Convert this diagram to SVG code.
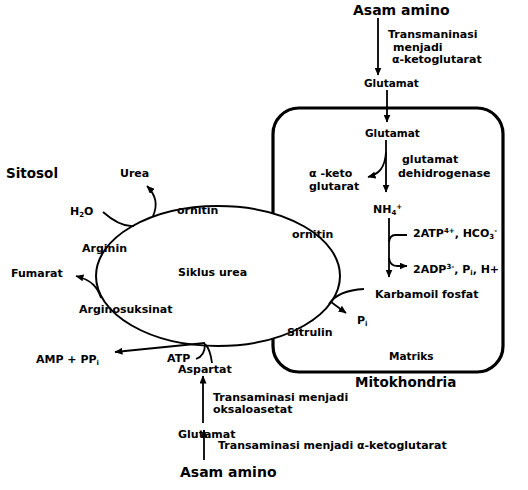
<svg xmlns="http://www.w3.org/2000/svg" width="528" height="490" viewBox="0 0 528 490">
<defs>
<marker id="ah" markerUnits="userSpaceOnUse" markerWidth="9" markerHeight="7" refX="7.5" refY="3.5" orient="auto">
<path d="M0,0 L8,3.5 L0,7 z" fill="#000"/>
</marker>
<style>
text{font-family:"DejaVu Sans","Liberation Sans",sans-serif;font-weight:bold;font-size:11px;fill:#000}
.big{font-size:14px}
.mid{font-size:13.5px}
.sm{font-size:10.5px}
.c{fill:none;stroke:#000;stroke-width:1.8}
.a{marker-end:url(#ah)}
.s{font-size:7px}
</style>
</defs>
<rect width="528" height="490" fill="#fff"/>
<g id="mitokhondria">
<rect x="273" y="108" width="230" height="264" rx="26" ry="26" fill="none" stroke="#000" stroke-width="3.2"/>
</g>
<g id="siklus-urea">
<ellipse cx="218" cy="276" rx="122" ry="70" fill="#fff" stroke="#000" stroke-width="2"/>
<text x="178" y="276">Siklus urea</text>
</g>
<g id="connectors">
<path class="c a" d="M378,18 V75"/>
<path class="c a" d="M387,90 V122"/>
<path class="c a" d="M386,140 V192"/>
<path class="c a" d="M386,152 C385,168 379,174 368,177"/>
<path class="c a" d="M389,218 V277"/>
<path class="c" d="M407,235 H395 Q390,235 389,242"/>
<path class="c a" d="M389,258 Q390,266 397,266 H407"/>
<path class="c" d="M364,289 C345,290 335,295 329,304"/>
<path class="c a" d="M331,302 L346,313"/>
<path class="c a" d="M153,216 C158,205 156,195 147,186"/>
<path class="c" d="M103,212 C112,220 122,227 134,226"/>
<path class="c a" d="M101,298 C98,288 92,280 76,276"/>
<path class="c a" d="M205,343 L115,352"/>
<path class="c" d="M196,359 C202,357 205,352 205,344"/>
<path class="c" d="M212,363 C211,355 209,348 205,344"/>
<path class="c a" d="M203,423 V376"/>
<path class="c a" d="M204,460 V430"/>
</g>
<g id="asam-amino-top"><text class="big" x="353" y="15">Asam amino</text></g>
<g id="transaminasi-top">
<text x="388" y="38">Transmaninasi</text>
<text x="393" y="51">menjadi</text>
<text x="392" y="63">α-ketoglutarat</text>
</g>
<g id="glutamat-sitosol"><text class="sm" x="364" y="87">Glutamat</text></g>
<g id="glutamat-matriks"><text class="sm" x="365" y="137">Glutamat</text></g>
<g id="gdh">
<text x="402" y="163">glutamat</text>
<text x="398" y="177">dehidrogenase</text>
</g>
<g id="aketo">
<text x="309" y="177">α -keto</text>
<text x="309" y="190">glutarat</text>
</g>
<g id="nh4"><text x="373" y="213">NH<tspan class="s" dy="2">4</tspan><tspan class="s" dy="-6">+</tspan></text></g>
<g id="atp-hco3"><text x="413" y="237">2ATP<tspan class="s" dy="-4">4+</tspan><tspan dy="4">, HCO</tspan><tspan class="s" dy="2">3</tspan><tspan class="s" dy="-6">-</tspan></text></g>
<g id="ornitin-m"><text x="292" y="238">ornitin</text></g>
<g id="adp"><text x="413" y="273">2ADP<tspan class="s" dy="-4">3-</tspan><tspan dy="4">, P</tspan><tspan class="s" dy="2">i</tspan><tspan dy="-2">, H+</tspan></text></g>
<g id="karbamoil"><text x="375" y="298">Karbamoil fosfat</text></g>
<g id="pi"><text x="357" y="324">P<tspan class="s" dy="2">i</tspan></text></g>
<g id="sitrulin"><text x="287" y="336">Sitrulin</text></g>
<g id="matriks"><text class="sm" x="389" y="360">Matriks</text></g>
<g id="mito-label"><text class="mid" x="355" y="387">Mitokhondria</text></g>
<g id="sitosol"><text class="mid" x="6" y="178">Sitosol</text></g>
<g id="urea"><text x="120" y="177">Urea</text></g>
<g id="h2o"><text x="70" y="215">H<tspan class="s" dy="2">2</tspan><tspan dy="-2">O</tspan></text></g>
<g id="ornitin-s"><text x="177" y="214">ornitin</text></g>
<g id="arginin"><text x="82" y="252">Arginin</text></g>
<g id="fumarat"><text x="11" y="277">Fumarat</text></g>
<g id="arginosuksinat"><text x="79" y="313">Arginosuksinat</text></g>
<g id="amp"><text x="36" y="363">AMP + PP<tspan class="s" dy="2">i</tspan></text></g>
<g id="atp"><text x="167" y="362">ATP</text></g>
<g id="aspartat"><text x="178" y="373">Aspartat</text></g>
<g id="transaminasi-oksalo">
<text x="213" y="401">Transaminasi menjadi</text>
<text x="213" y="413">oksaloasetat</text>
</g>
<g id="glutamat-bottom"><text x="178" y="438">Glutamat</text></g>
<g id="transaminasi-bottom"><text x="218" y="449">Transaminasi menjadi α-ketoglutarat</text></g>
<g id="asam-amino-bottom"><text class="big" x="180" y="477">Asam amino</text></g>
</svg>
